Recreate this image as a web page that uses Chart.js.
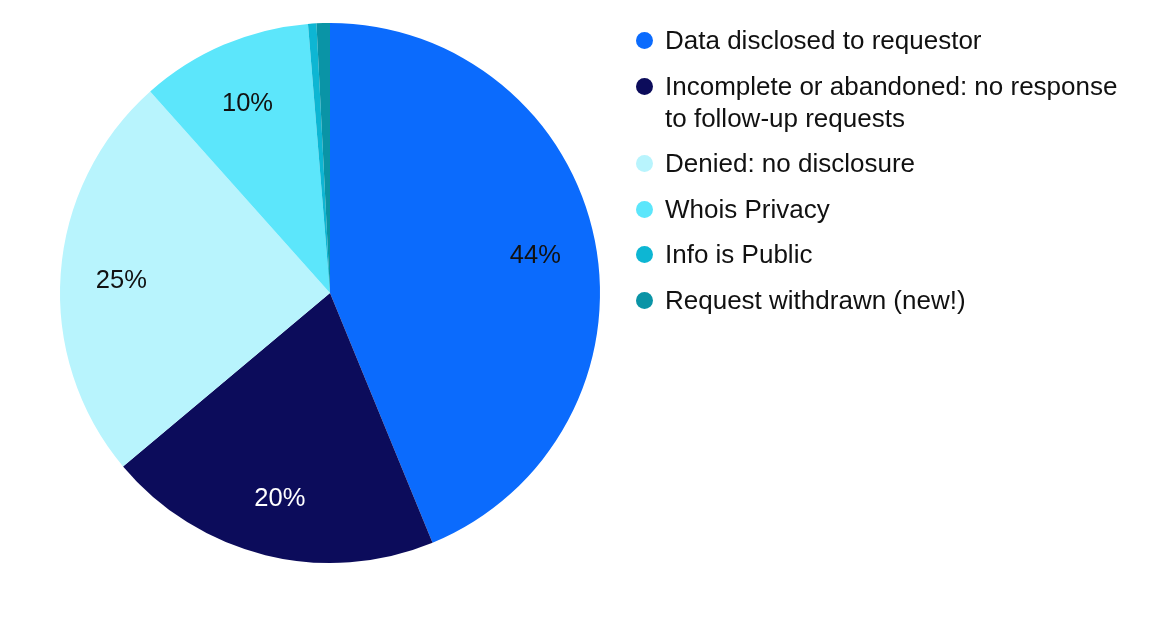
<!DOCTYPE html>
<html>
<head>
<meta charset="utf-8">
<script src="https://cdn.jsdelivr.net/npm/chart.js@4"></script>
<style>
  body { margin: 0; background: #fff; }
  #wrap { position: relative; width: 1160px; height: 626px; }
  #legenda { position: absolute; left: 636px; top: 24px; font-family: "Liberation Sans", Arial, sans-serif; font-size: 26px; color: #111; }
  .item { position: relative; padding-left: 29px; line-height: 32px; margin-bottom: 13.6px; white-space: nowrap; }
  .item span.bola { position: absolute; left: 0; top: 8px; width: 17px; height: 17px; border-radius: 50%; }
</style>
</head>
<body>
<div id="wrap">
  <canvas id="meuGrafico" width="1160" height="626"></canvas>
  <div id="legenda"></div>
</div>
<script>
const categorias = [
  ['Data disclosed to requestor'],
  ['Incomplete or abandoned: no response', 'to follow-up requests'],
  ['Denied: no disclosure'],
  ['Whois Privacy'],
  ['Info is Public'],
  ['Request withdrawn (new!)']
];
const valores = [43.8, 20.1, 24.5, 10.3, 0.5, 0.8];
const rotulos = ['44%', '20%', '25%', '10%', '', ''];
const corRotulo = ['#111', '#fff', '#111', '#111', '#111', '#111'];
const cores = ['#0b6bfd', '#0c0c5b', '#b8f4fd', '#5ce6fb', '#0db6d3', '#0a94a6'];

// legenda em html
const leg = document.getElementById('legenda');
categorias.forEach((c, i) => {
  const d = document.createElement('div');
  d.className = 'item';
  d.innerHTML = '<span class="bola" style="background:' + cores[i] + '"></span>' + c.join('<br>');
  leg.appendChild(d);
});

// rótulos dentro das fatias
const pluginRotulos = {
  id: 'rotulos',
  afterDatasetsDraw(chart) {
    const ctx = chart.ctx;
    chart.getDatasetMeta(0).data.forEach((arc, i) => {
      if (!rotulos[i]) return;
      const a = (arc.startAngle + arc.endAngle) / 2;
      const r = arc.outerRadius * 0.775;
      ctx.save();
      ctx.font = '25.5px "Liberation Sans", Arial, sans-serif';
      ctx.fillStyle = corRotulo[i];
      ctx.textAlign = 'center';
      ctx.textBaseline = 'middle';
      ctx.fillText(rotulos[i], arc.x + Math.cos(a) * r, arc.y + Math.sin(a) * r + 3);
      ctx.restore();
    });
  }
};

const ctx = document.getElementById('meuGrafico').getContext('2d');
window.chart = new Chart(ctx, {
  type: 'pie',
  data: { labels: categorias.map(c => c.join(' ')), datasets: [{ data: valores, backgroundColor: cores, borderWidth: 0 }] },
  options: {
    responsive: false,
    animation: false,
    layout: { padding: { left: 60, right: 560, top: 23, bottom: 63 } },
    plugins: { legend: { display: false }, tooltip: { enabled: false } }
  },
  plugins: [pluginRotulos]
});
</script>
</body>
</html>
